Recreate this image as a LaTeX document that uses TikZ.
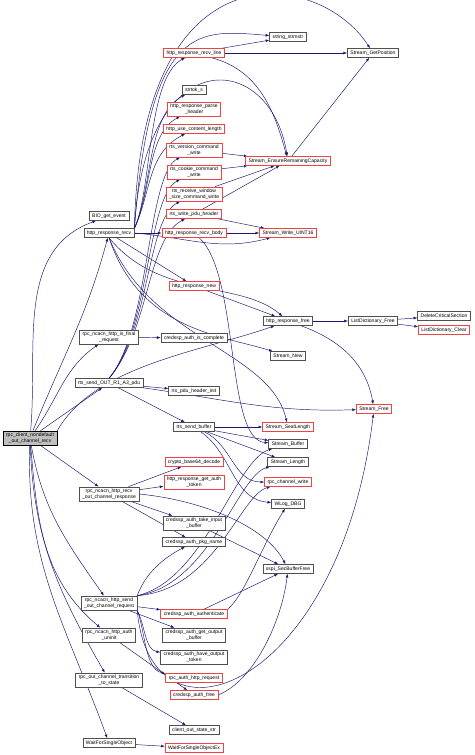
\documentclass[tikz,border=0pt]{standalone}
\usepackage{fontspec}
\setmainfont{Liberation Sans}
\usepackage{tikz}
\usetikzlibrary{arrows.meta}
\definecolor{Edge}{HTML}{191970}
\definecolor{Frame}{HTML}{505050}
\definecolor{Trunc}{HTML}{EE4444}
\definecolor{RootFill}{HTML}{BFBFBF}
\pgfdeclarelayer{edges}
\pgfsetlayers{edges,main}
\tikzset{
  fn/.style={draw=Frame,fill=white,line width=.45pt,align=center,inner xsep=2.6pt,inner ysep=1.6pt,
    font=\fontsize{4.3}{4.9}\selectfont,minimum height=7.6pt},
  fnred/.style={fn,draw=Trunc},
  rootfn/.style={fn,fill=RootFill,draw=black},
  call/.style={-{Latex[length=3.2pt,width=2.4pt]},draw=Edge,line width=.4pt}
}

\begin{document}
\begin{tikzpicture}[x=0.03cm,y=-0.03cm]
  \useasboundingbox (0,0) rectangle (474,755);

  % caller
  \node[rootfn] (root) at (30,438) {rpc\_client\_nondefault\\\_out\_channel\_recv};

  % first level
  \node[fn] (bio) at (109,216) {BIO\_get\_event};
  \node[fn] (hrecv) at (109,233) {http\_response\_recv};
  \node[fn] (isfinal) at (109,337) {rpc\_ncacn\_http\_is\_final\\\_request};
  \node[fn] (rtsout) at (109,383) {rts\_send\_OUT\_R1\_A3\_pdu};
  \node[fn] (recvresp) at (109,494) {rpc\_ncacn\_http\_recv\\\_out\_channel\_response};
  \node[fn] (sendreq) at (109,603) {rpc\_ncacn\_http\_send\\\_out\_channel\_request};
  \node[fn] (authuninit) at (109,635) {rpc\_ncacn\_http\_auth\\\_uninit};
  \node[fn] (transition) at (109,680) {rpc\_out\_channel\_transition\\\_to\_state};
  \node[fn] (wait) at (109,743) {WaitForSingleObject};

  % second level
  \node[fnred] (recvline) at (194,53) {http\_response\_recv\_line};
  \node[fn] (strtok) at (194,90) {strtok\_s};
  \node[fnred] (parsehdr) at (194,109) {http\_response\_parse\\\_header};
  \node[fnred] (usecl) at (194,129) {http\_use\_content\_length};
  \node[fnred] (version) at (194,150) {rts\_version\_command\\\_write};
  \node[fnred] (cookie) at (194,172) {rts\_cookie\_command\\\_write};
  \node[fnred] (rwnd) at (194,194) {rts\_receive\_window\\\_size\_command\_write};
  \node[fnred] (pduhdr) at (194,214) {rts\_write\_pdu\_header};
  \node[fnred] (recvbody) at (194,233) {http\_response\_recv\_body};
  \node[fnred] (hnew) at (194,286) {http\_response\_new};
  \node[fn] (iscomplete) at (194,338) {credssp\_auth\_is\_complete};
  \node[fn] (pduinit) at (194,391) {rts\_pdu\_header\_init};
  \node[fn] (sendbuf) at (194,427) {rts\_send\_buffer};
  \node[fnred] (b64) at (194,462) {crypto\_base64\_decode};
  \node[fnred] (gettoken) at (194,482) {http\_response\_get\_auth\\\_token};
  \node[fn] (takeinput) at (194,523) {credssp\_auth\_take\_input\\\_buffer};
  \node[fn] (pkgname) at (194,542) {credssp\_auth\_pkg\_name};
  \node[fnred] (authn) at (194,614) {credssp\_auth\_authenticate};
  \node[fn] (getout) at (194,635) {credssp\_auth\_get\_output\\\_buffer};
  \node[fn] (haveout) at (194,657) {credssp\_auth\_have\_output\\\_token};
  \node[fnred] (authreq) at (194,678) {rpc\_auth\_http\_request};
  \node[fnred] (authfree) at (194,695) {credssp\_auth\_free};
  \node[fn] (statestr) at (194,730) {client\_out\_state\_str};
  \node[fnred] (waitex) at (194,748) {WaitForSingleObjectEx};

  % third level
  \node[fn] (strmstr) at (288,37) {string\_strmstr};
  \node[fnred] (ensure) at (288,161) {Stream\_EnsureRemainingCapacity};
  \node[fnred] (write16) at (288,233) {Stream\_Write\_UINT16};
  \node[fn] (hfree) at (288,321) {http\_response\_free};
  \node[fn] (snew) at (288,356) {Stream\_New};
  \node[fnred] (seallen) at (288,427) {Stream\_SealLength};
  \node[fn] (sbuffer) at (288,444) {Stream\_Buffer};
  \node[fn] (slength) at (288,462) {Stream\_Length};
  \node[fnred] (chwrite) at (288,482) {rpc\_channel\_write};
  \node[fn] (wlog) at (288,504) {WLog\_DBG};
  \node[fn] (secfree) at (288,569) {sspi\_SecBufferFree};

  \node[fn] (getpos) at (373,53) {Stream\_GetPosition};
  \node[fn] (ldfree) at (373,321) {ListDictionary\_Free};
  \node[fnred] (sfree) at (374,409) {Stream\_Free};
  \node[fn] (delcs) at (444,316) {DeleteCriticalSection};
  \node[fnred] (ldclear) at (444,330) {ListDictionary\_Clear};

  \begin{pgfonlayer}{edges}
  % calls of the caller
  \draw[call] (root) to[out=85,in=200] (bio);
  \draw[call] (root) to[out=68,in=-105] (hrecv);
  \draw[call] (root) to[out=55,in=215] (isfinal);
  \draw[call] (root) -- (rtsout);
  \draw[call] (root) -- (recvresp);
  \draw[call] (root.north east) .. controls (95,365) and (200,352) .. (hfree);
  \draw[call] (root) to[out=-80,in=125] (sendreq);
  \draw[call] (root) to[out=-85,in=140] (authuninit);
  \draw[call] (root) to[out=-88,in=120] (transition);
  \draw[call] (root) to[out=-92,in=110] (wait);

  % http_response_recv
  \foreach \t/\y in {recvline/53,strtok/90,parsehdr/109,usecl/129}
    \draw[call] (hrecv.north east) .. controls (152,190) and (147,\y+25) .. (\t);
  \draw[call] (hrecv.north east) .. controls (150,20) and (200,30) .. (strmstr);
  \draw[call] (hrecv.north east) .. controls (140,-60) and (320,-30) .. (getpos);
  \draw[call] (hrecv.north east) .. controls (145,40) and (270,50) .. (ensure);
  \draw[call] (hrecv) -- (recvbody);
  \draw[call] (hrecv.east) to[out=-5,in=195] (write16);
  \draw[call] (hrecv) -- (hnew);
  \draw[call] (hrecv.south) .. controls (160,300) and (240,280) .. (hfree);
  \draw[call] (hrecv.south) .. controls (140,330) and (220,335) .. (snew);
  \draw[call] (hrecv.south) .. controls (150,340) and (270,350) .. (seallen);

  \draw[call] (recvline) -- (strmstr);
  \draw[call] (recvline) -- (getpos);
  \draw[call] (recvline) to[out=-15,in=105] (ensure);
  \foreach \s in {version,cookie,rwnd,pduhdr}
    \draw[call] (\s) -- (ensure);
  \draw[call] (ensure) -- (getpos);
  \draw[call] (pduhdr) -- (write16);
  \draw[call] (recvbody) -- (write16);
  \draw[call] (recvbody) .. controls (240,275) and (225,440) .. (sbuffer);
  \draw[call] (hnew) -- (hfree);
  \draw[call] (hfree) -- (ldfree);
  \draw[call] (hfree) to[out=-20,in=100] (sfree);
  \draw[call] (ldfree) -- (delcs);
  \draw[call] (ldfree) -- (ldclear);

  \draw[call] (isfinal) -- (iscomplete);

  % rts_send_OUT_R1_A3_pdu
  \foreach \t/\y in {version/150,cookie/172,rwnd/194,pduhdr/214}
    \draw[call] (rtsout.north) .. controls (150,330) and (147,\y+25) .. (\t);
  \draw[call] (rtsout) -- (pduinit);
  \draw[call] (rtsout) -- (sendbuf);
  \draw[call] (rtsout) to[out=-8,in=182] (sfree);
  \draw[call] (sendbuf) -- (seallen);
  \draw[call] (sendbuf) -- (sbuffer);
  \draw[call] (sendbuf) -- (slength);
  \draw[call] (sendbuf) to[out=-25,in=180] (chwrite);
  \draw[call] (sendbuf) to[out=-35,in=175] (wlog);

  % rpc_ncacn_http_recv_out_channel_response
  \foreach \t in {b64,gettoken,takeinput,pkgname}
    \draw[call] (recvresp) -- (\t);
  \draw[call] (recvresp.east) .. controls (200,500) and (265,525) .. (secfree);
  \draw[call] (takeinput) -- (secfree);

  % rpc_ncacn_http_send_out_channel_request
  \draw[call] (sendreq.north east) .. controls (145,575) and (160,560) .. (pkgname);
  \draw[call] (sendreq.north east) .. controls (205,580) and (235,460) .. (sbuffer);
  \draw[call] (sendreq.north east) .. controls (210,585) and (238,475) .. (slength);
  \draw[call] (sendreq.north east) .. controls (215,590) and (240,495) .. (chwrite);
  \draw[call] (sendreq) -- (authn);
  \draw[call] (sendreq) -- (getout);
  \draw[call] (sendreq.south east) .. controls (145,625) and (145,650) .. (haveout);
  \draw[call] (sendreq.south east) .. controls (145,630) and (145,670) .. (authreq);
  \draw[call] (sendreq.south east) .. controls (150,760) and (340,690) .. (sfree);
  \draw[call] (authuninit) -- (authfree);
  \draw[call] (authn) -- (secfree);
  \draw[call] (authn.north east) .. controls (245,595) and (262,545) .. (wlog);
  \draw[call] (authfree.east) .. controls (255,680) and (282,620) .. (secfree);

  \draw[call] (transition) -- (statestr);
  \draw[call] (wait) -- (waitex);
  \end{pgfonlayer}
\end{tikzpicture}
\end{document}
